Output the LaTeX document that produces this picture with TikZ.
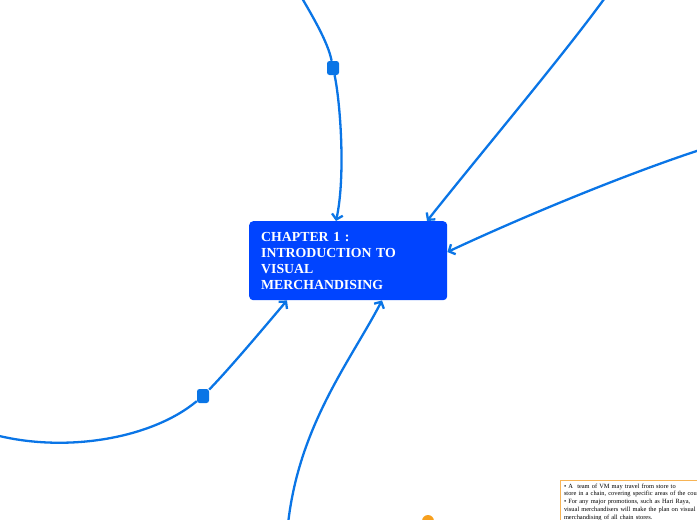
\documentclass[tikz,border=0pt]{standalone}
\usepackage{fontspec}
\setmainfont{Liberation Serif}
\usetikzlibrary{arrows.meta}
\definecolor{linkblue}{RGB}{10,117,230}
\definecolor{mainblue}{RGB}{0,68,255}
\definecolor{noteorange}{RGB}{247,180,85}
\definecolor{dotorange}{RGB}{247,160,30}
\begin{document}
\begin{tikzpicture}[x=1pt,y=-1pt,
  link/.style={draw=linkblue, line width=2.3pt},
  arr/.style={-{Straight Barb[length=5pt,width=11pt]}},
  knob/.style={fill=linkblue, rounded corners=2.5pt, minimum width=12pt, minimum height=14pt, inner sep=0pt},
  chapter/.style={fill=mainblue, text=white, rounded corners=4pt, minimum width=198pt, minimum height=79pt,
    inner xsep=12pt, inner ysep=0pt, align=left, text width=174pt,
    font=\fontsize{13.8}{16}\selectfont\bfseries},
  notebox/.style={draw=noteorange, line width=1pt, fill=white, align=left, text width=200pt,
    inner xsep=3.5pt, inner ysep=3.6pt, font=\fontsize{6.4}{7.8}\selectfont},
  dot/.style={circle, fill=dotorange, minimum size=12pt, inner sep=0pt}]
\useasboundingbox (0,0) rectangle (697,520);
\clip (0,0) rectangle (697,520);

\node[chapter, anchor=north west] (ch1) at (249,221) {CHAPTER 1 :\\INTRODUCTION TO\\VISUAL\\MERCHANDISING};
\node[knob] (k1) at (333,68) {};
\node[knob] (k2) at (203,396) {};

\coordinate (s1) at (296,-12);
\coordinate (s2) at (612,-12);
\coordinate (s3) at (712,146);
\coordinate (s4) at (-12,433);
\coordinate (s5) at (287,535);

\draw[link] (s1) .. controls (312,15) and (328,42) .. (k1);
\draw[link,arr] (k1) .. controls (340,100) and (346,175) .. ([xshift=87pt]ch1.north west);
\draw[link,arr] (s2) .. controls (572,45) and (485,148) .. ([xshift=178pt]ch1.north west);
\draw[link,arr] (s3) .. controls (630,172) and (520,218) .. ([yshift=-31pt]ch1.north east);
\draw[link] (s4) .. controls (60,454) and (150,440) .. (k2);
\draw[link,arr] (k2) .. controls (230,368) and (262,330) .. ([xshift=38pt]ch1.south west);
\draw[link,arr] (s5) .. controls (295,430) and (350,362) .. ([xshift=133pt]ch1.south west);

\node[notebox, anchor=north west] (note) at (560,479.5) {\textbullet{} A\ \ team of VM may travel from store to\\
store in a chain, covering specific areas of the country.\\
\textbullet{} For any major promotions, such as Hari Raya,\\
visual merchandisers will make the plan on visual\\
merchandising of all chain stores.};

\node[dot] (d1) at (428,521) {};
\end{tikzpicture}
\end{document}
